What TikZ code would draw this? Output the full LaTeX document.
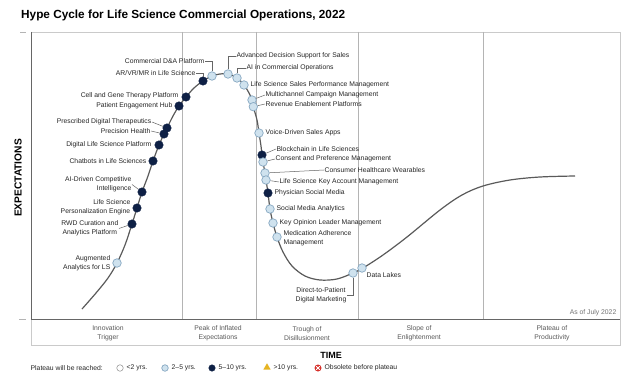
\documentclass[tikz,border=0pt]{standalone}
\usepackage{fontspec}
\setmainfont{Liberation Sans}
\usetikzlibrary{shapes.geometric}
\definecolor{navy}{HTML}{0E2045}
\definecolor{paleblue}{HTML}{CFE2EE}
\definecolor{paleedge}{HTML}{86A8C2}
\definecolor{curvegray}{HTML}{5A5A5A}
\definecolor{gridgray}{HTML}{B4B4B4}
\definecolor{warnyellow}{HTML}{E6B422}
\definecolor{obsred}{HTML}{D7302A}
\tikzset{
  lbl/.style={font=\fontsize{6.8}{8.8}\selectfont, inner sep=0.5pt, text=black!85},
  darkdot/.style={circle, draw=navy, fill=navy, minimum size=8.5pt, inner sep=0pt},
  lightdot/.style={circle, draw=paleedge, fill=paleblue, line width=0.7pt, minimum size=8.5pt, inner sep=0pt},
  lead/.style={draw=black!60, line width=0.5pt},
  phase/.style={font=\fontsize{6.8}{9}\selectfont, text=black!65, align=center},
  axislabel/.style={font=\fontsize{9}{10}\selectfont\bfseries},
}
\begin{document}
\begin{tikzpicture}[x=1pt,y=-1pt]
\useasboundingbox[fill=white] (0,0) rectangle (643,385);
\node[anchor=west, inner sep=0pt, font=\fontsize{11.8}{13}\selectfont\bfseries] (title) at (21,15) {Hype Cycle for Life Science Commercial Operations, 2022};

% frame, phases and axes
\draw[gridgray!70] (31,32) -- (620,32) -- (620,345) -- (31,345) -- (31,319);
\draw[gridgray] (182,32) -- (182,319);
\draw[gridgray] (256,32) -- (256,319);
\draw[gridgray] (358,32) -- (358,319);
\draw[gridgray] (483,32) -- (483,319);
\draw[gridgray] (20,32) -- (26,32);
\draw[gridgray] (19,319) -- (26,319);
\draw[black!60, line width=0.8pt] (31,32) -- (31,319) -- (620,319);
\node[axislabel, font=\fontsize{10.2}{11}\selectfont\bfseries, rotate=90] (yaxis) at (18,178) {EXPECTATIONS};
\node[axislabel] (xaxis) at (331,355) {TIME};
\node[phase] (p1) at (108,333.5) {Innovation\\Trigger};
\node[phase] (p2) at (218,333.5) {Peak of Inflated\\Expectations};
\node[phase] (p3) at (307,333.5) {Trough of\\Disillusionment};
\node[phase] (p4) at (419,333.5) {Slope of\\Enlightenment};
\node[phase] (p5) at (552,333.5) {Plateau of\\Productivity};
\node[lbl, text=black!55, anchor=east] (asof) at (617,313) {As of July 2022};

% the curve
\draw[curvegray, line width=1.2pt] plot[smooth, tension=0.55] coordinates {
  (82,309) (96,293) (108,278) (117,263) (125,245) (132,224) (137,208) (142,192)
  (148,176) (153,161) (159,145) (164,134) (167,128) (173,116) (179,106) (186,97)
  (194,88) (203,81) (212,76) (220,74) (228,74) (237,78) (244,85) (249,93)
  (252,100) (253.3,106.7) (257,120) (259,133) (261,146) (262,155) (263,162) (265,173)
  (266,180) (268,193) (270,209) (273,223) (277,237) (283,252) (292,266) (305,276)
  (320,280) (337,279) (353,273) (363,268) (383,255) (407,237) (440,210) (462,195)
  (483,186) (510,180) (540,177) (575,176)};

% rising side
\node[lightdot] (d1) at (117,263) {};
\node[lbl, anchor=east, align=right] (l1) at (111,263.5) {Augmented\\Analytics for LS};
\node[darkdot] (d2) at (132,224) {};
\node[lbl, anchor=east, align=center] (l2) at (119,228.5) {RWD Curation and\\Analytics Platform};
\draw[lead] (l2.east) -- (d2);
\node[darkdot] (d3) at (137,208) {};
\node[lbl, anchor=east, align=right] (l3) at (131,207.5) {Life Science\\Personalization Engine};
\node[darkdot] (d4) at (142,192) {};
\node[lbl, anchor=east, align=right] (l4) at (132,184.5) {AI-Driven Competitive\\Intelligence};
\draw[lead] (l4.east) -- (d4);
\node[darkdot] (d5) at (153,161) {};
\node[lbl, anchor=east] (l5) at (147,161) {Chatbots in Life Sciences};
\node[darkdot] (d6) at (159,145) {};
\node[lbl, anchor=east] (l6) at (152,145) {Digital Life Science Platform};
\node[darkdot] (d7) at (164,134) {};
\node[lbl, anchor=east] (l7) at (151,131) {Precision Health};
\draw[lead] (l7.east) -- (d7);
\node[darkdot] (d8) at (167,128) {};
\node[lbl, anchor=east] (l8) at (152,122) {Prescribed Digital Therapeutics};
\draw[lead] (l8.east) -- (d8);
\node[darkdot] (d9) at (179,106) {};
\node[lbl, anchor=east] (l9) at (173,106) {Patient Engagement Hub};
\node[darkdot] (d10) at (186,97) {};
\node[lbl, anchor=east] (l10) at (179,96) {Cell and Gene Therapy Platform};
\node[darkdot] (d11) at (203,81) {};
\node[lbl, anchor=east] (l11) at (196,73) {AR/VR/MR in Life Science};
\draw[lead] (l11.east) -| (d11);
\node[lightdot] (d12) at (212,76) {};
\node[lbl, anchor=east] (l12) at (205,61) {Commercial D\&A Platform};
\draw[lead] (l12.east) -| (d12);

% peak and falling side
\node[lightdot] (d13) at (228,74) {};
\node[lbl, anchor=west] (l13) at (236,56) {Advanced Decision Support for Sales};
\draw[lead] (d13) |- (l13.west);
\node[lightdot] (d14) at (237,78) {};
\node[lbl, anchor=west] (l14) at (246,68) {AI in Commercial Operations};
\draw[lead] (d14) |- (l14.west);
\node[lightdot] (d15) at (244,85) {};
\node[lbl, anchor=west] (l15) at (250,85) {Life Science Sales Performance Management};
\node[lightdot] (d16) at (252,100) {};
\node[lbl, anchor=west] (l16) at (265,95) {Multichannel Campaign Management};
\draw[lead] (d16) -- (l16.west);
\node[lightdot] (d17) at (253.3,106.7) {};
\node[lbl, anchor=west] (l17) at (265,104) {Revenue Enablement Platforms};
\draw[lead] (d17) -- (l17.west);
\node[lightdot] (d18) at (259,133) {};
\node[lbl, anchor=west] (l18) at (265,133) {Voice-Driven Sales Apps};
\node[darkdot] (d19) at (262,155) {};
\node[lbl, anchor=west] (l19) at (276,149) {Blockchain in Life Sciences};
\draw[lead] (d19) -- (l19.west);
\node[lightdot] (d20) at (263,162) {};
\node[lbl, anchor=west] (l20) at (275,159) {Consent and Preference Management};
\draw[lead] (d20) -- (l20.west);
\node[lightdot] (d21) at (265,173) {};
\node[lbl, anchor=west] (l21) at (324,170) {Consumer Healthcare Wearables};
\draw[lead] (d21) -- (l21.west);
\node[lightdot] (d22) at (266,180) {};
\node[lbl, anchor=west] (l22) at (279,182) {Life Science Key Account Management};
\draw[lead] (d22) -- (l22.west);
\node[darkdot] (d23) at (268,193) {};
\node[lbl, anchor=west] (l23) at (274,193) {Physician Social Media};
\node[lightdot] (d24) at (270,209) {};
\node[lbl, anchor=west] (l24) at (276,209) {Social Media Analytics};
\node[lightdot] (d25) at (273,223) {};
\node[lbl, anchor=west] (l25) at (279,223) {Key Opinion Leader Management};
\node[lightdot] (d26) at (277,237) {};
\node[lbl, anchor=west, align=left] (l26) at (283,238.5) {Medication Adherence\\Management};

% trough and slope
\node[lightdot] (d27) at (353,273) {};
\node[lbl, anchor=east, align=center] (l27) at (347,295) {Direct-to-Patient\\Digital Marketing};
\draw[lead] (d27) |- (l27.east);
\node[lightdot] (d28) at (362,268) {};
\node[lbl, anchor=west] (l28) at (366,275) {Data Lakes};

% legend
\node[lbl, anchor=west] (key) at (30,368) {Plateau will be reached:};
\node[circle, draw=black!45, fill=white, line width=0.5pt, minimum size=6.5pt, inner sep=0pt] (k1) at (120,368) {};
\node[lbl, anchor=west] (kl1) at (126,368) {<2 yrs.};
\node[lightdot, minimum size=6.5pt] (k2) at (165,368) {};
\node[lbl, anchor=west] (kl2) at (171,368) {2–5 yrs.};
\node[darkdot, minimum size=6.5pt] (k3) at (212,368) {};
\node[lbl, anchor=west] (kl3) at (218,368) {5–10 yrs.};
\node[regular polygon, regular polygon sides=3, fill=warnyellow, minimum size=8.5pt, inner sep=0pt] (k4) at (267,367.5) {};
\node[lbl, anchor=west] (kl4) at (273,368) {>10 yrs.};
\node[circle, fill=obsred, minimum size=7pt, inner sep=0pt,
  path picture={\draw[white, line width=0.8pt] ([shift={(-1.8,-1.8)}]path picture bounding box.center) -- ([shift={(1.8,1.8)}]path picture bounding box.center) ([shift={(-1.8,1.8)}]path picture bounding box.center) -- ([shift={(1.8,-1.8)}]path picture bounding box.center);}] (k5) at (318,368) {};
\node[lbl, anchor=west] (kl5) at (324,368) {Obsolete before plateau};
\end{tikzpicture}
\end{document}
